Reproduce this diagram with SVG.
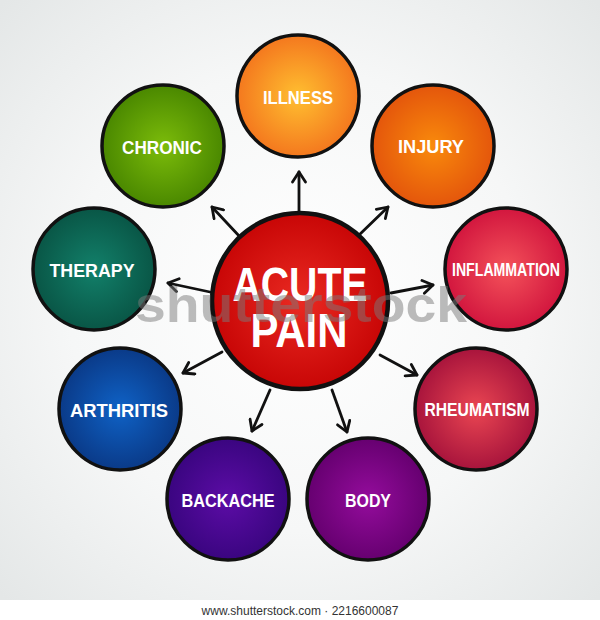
<svg xmlns="http://www.w3.org/2000/svg" width="600" height="620" viewBox="0 0 600 620">
<defs>
<radialGradient id="bg" cx="300" cy="300" r="420" gradientUnits="userSpaceOnUse">
<stop offset="0" stop-color="#ffffff"/>
<stop offset="0.55" stop-color="#f6f7f7"/>
<stop offset="1" stop-color="#e4e7e7"/>
</radialGradient>
<radialGradient id="gRed"><stop offset="0" stop-color="#ea2a22"/><stop offset="1" stop-color="#c80606"/></radialGradient>
<radialGradient id="gIll"><stop offset="0" stop-color="#ffbf30"/><stop offset="1" stop-color="#f4781e"/></radialGradient>
<radialGradient id="gInj"><stop offset="0" stop-color="#f98a0c"/><stop offset="1" stop-color="#e4560c"/></radialGradient>
<radialGradient id="gInf"><stop offset="0" stop-color="#f4525a"/><stop offset="1" stop-color="#d2163e"/></radialGradient>
<radialGradient id="gRhe"><stop offset="0" stop-color="#ea4652"/><stop offset="1" stop-color="#a8143c"/></radialGradient>
<radialGradient id="gBod"><stop offset="0" stop-color="#940c9c"/><stop offset="1" stop-color="#660070"/></radialGradient>
<radialGradient id="gBac"><stop offset="0" stop-color="#5c0ca6"/><stop offset="1" stop-color="#3a0580"/></radialGradient>
<radialGradient id="gArt"><stop offset="0" stop-color="#0f62c6"/><stop offset="1" stop-color="#0a3a88"/></radialGradient>
<radialGradient id="gThe"><stop offset="0" stop-color="#12806a"/><stop offset="1" stop-color="#095646"/></radialGradient>
<radialGradient id="gChr"><stop offset="0" stop-color="#7cbc0a"/><stop offset="1" stop-color="#4a8800"/></radialGradient>
<marker id="arr" markerUnits="userSpaceOnUse" markerWidth="16" markerHeight="16" viewBox="0 0 16 16" refX="13" refY="8" orient="auto">
<path d="M3,1.5 L13,8 L3,14.5" fill="none" stroke="#111" stroke-width="2.8" stroke-linecap="round" stroke-linejoin="round"/>
</marker>
<style>
.node{stroke:#111;stroke-width:3.5}
.lbl{font-family:"Liberation Sans",Arial,sans-serif;font-weight:bold;font-size:18px;fill:#ffffff;text-anchor:middle}
.big{font-family:"Liberation Sans",Arial,sans-serif;font-weight:bold;font-size:48px;fill:#ffffff;text-anchor:middle}
.conn{stroke:#111;stroke-width:2.8;fill:none;stroke-linecap:round;marker-end:url(#arr)}
</style>
</defs>
<rect x="0" y="0" width="600" height="600" fill="url(#bg)"/>
<rect x="0" y="600" width="600" height="20" fill="#ffffff"/>
<g id="connectors">
<line class="conn" x1="299" y1="212" x2="299" y2="172"/>
<line class="conn" x1="358" y1="236" x2="388" y2="207"/>
<line class="conn" x1="241" y1="238" x2="212" y2="207"/>
<line class="conn" x1="391" y1="293" x2="433" y2="285"/>
<line class="conn" x1="210" y1="292" x2="168" y2="283"/>
<line class="conn" x1="380" y1="355" x2="417" y2="375"/>
<line class="conn" x1="222" y1="352" x2="183" y2="373"/>
<line class="conn" x1="332" y1="390" x2="347" y2="432"/>
<line class="conn" x1="270" y1="390" x2="252" y2="431"/>
</g>
<g id="node-illness"><circle class="node" cx="298" cy="96" r="61" fill="url(#gIll)"/><text class="lbl" x="298" y="104" textLength="70" lengthAdjust="spacingAndGlyphs">ILLNESS</text></g>
<g id="node-injury"><circle class="node" cx="433" cy="146" r="61" fill="url(#gInj)"/><text class="lbl" x="431" y="153" textLength="66" lengthAdjust="spacingAndGlyphs">INJURY</text></g>
<g id="node-inflammation"><circle class="node" cx="506" cy="269" r="61" fill="url(#gInf)"/><text class="lbl" x="506" y="276" textLength="108" lengthAdjust="spacingAndGlyphs">INFLAMMATION</text></g>
<g id="node-rheumatism"><circle class="node" cx="476" cy="409" r="61" fill="url(#gRhe)"/><text class="lbl" x="477" y="416" textLength="105" lengthAdjust="spacingAndGlyphs">RHEUMATISM</text></g>
<g id="node-body"><circle class="node" cx="368" cy="499" r="61" fill="url(#gBod)"/><text class="lbl" x="368" y="507" textLength="46" lengthAdjust="spacingAndGlyphs">BODY</text></g>
<g id="node-backache"><circle class="node" cx="228" cy="499" r="61" fill="url(#gBac)"/><text class="lbl" x="228" y="507" textLength="93" lengthAdjust="spacingAndGlyphs">BACKACHE</text></g>
<g id="node-arthritis"><circle class="node" cx="120" cy="409" r="61" fill="url(#gArt)"/><text class="lbl" x="119" y="417" textLength="98" lengthAdjust="spacingAndGlyphs">ARTHRITIS</text></g>
<g id="node-therapy"><circle class="node" cx="94" cy="269" r="61" fill="url(#gThe)"/><text class="lbl" x="92" y="277" textLength="85" lengthAdjust="spacingAndGlyphs">THERAPY</text></g>
<g id="node-chronic"><circle class="node" cx="163" cy="146" r="61" fill="url(#gChr)"/><text class="lbl" x="162" y="154" textLength="80" lengthAdjust="spacingAndGlyphs">CHRONIC</text></g>
<g id="node-acute-pain"><circle cx="300" cy="301" r="88" fill="url(#gRed)" stroke="#111" stroke-width="4.5"/><text class="big" x="300" y="301" textLength="135" lengthAdjust="spacingAndGlyphs">ACUTE</text><text class="big" x="299" y="347" textLength="97" lengthAdjust="spacingAndGlyphs">PAIN</text></g>
<text x="301" y="322" font-family="Liberation Sans,Arial,sans-serif" font-weight="bold" font-size="50" fill="#7a7a7a" fill-opacity="0.5" text-anchor="middle" textLength="332" lengthAdjust="spacingAndGlyphs">shutterstock</text>
<text x="300" y="615" font-family="Liberation Sans,Arial,sans-serif" font-size="12" fill="#333333" text-anchor="middle">www.shutterstock.com · 2216600087</text>
</svg>
